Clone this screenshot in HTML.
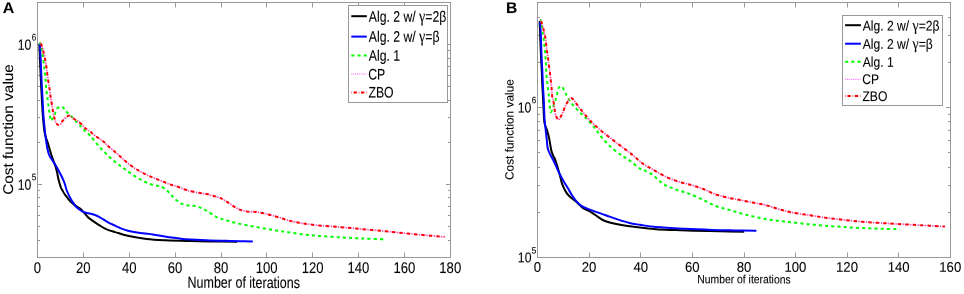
<!DOCTYPE html>
<html><head><meta charset="utf-8"><title>Cost function value vs. number of iterations</title>
<style>
html,body{margin:0;padding:0;background:#fff;width:964px;height:294px;overflow:hidden}
svg{display:block}
text{font-family:'Liberation Sans', Arial, sans-serif;fill:#000;stroke:#000;stroke-width:0.3px;stroke-opacity:0.3}
</style></head><body>
<svg width="964" height="294" viewBox="0 0 964 294">
<rect width="964" height="294" fill="#fff"/>
<path d="M83.50,257.50V252.50 M83.50,2.50V7.50 M129.50,257.50V252.50 M129.50,2.50V7.50 M175.50,257.50V252.50 M175.50,2.50V7.50 M221.50,257.50V252.50 M221.50,2.50V7.50 M266.50,257.50V252.50 M266.50,2.50V7.50 M312.50,257.50V252.50 M312.50,2.50V7.50 M358.50,257.50V252.50 M358.50,2.50V7.50 M404.50,257.50V252.50 M404.50,2.50V7.50 M37.50,240.50H40.00 M450.50,240.50H448.00 M37.50,226.50H40.00 M450.50,226.50H448.00 M37.50,215.50H40.00 M450.50,215.50H448.00 M37.50,206.50H40.00 M450.50,206.50H448.00 M37.50,197.50H40.00 M450.50,197.50H448.00 M37.50,190.50H40.00 M450.50,190.50H448.00 M37.50,184.50H42.00 M450.50,184.50H446.00 M37.50,142.50H40.00 M450.50,142.50H448.00 M37.50,117.50H40.00 M450.50,117.50H448.00 M37.50,100.50H40.00 M450.50,100.50H448.00 M37.50,86.50H40.00 M450.50,86.50H448.00 M37.50,75.50H40.00 M450.50,75.50H448.00 M37.50,66.50H40.00 M450.50,66.50H448.00 M37.50,58.50H40.00 M450.50,58.50H448.00 M37.50,50.50H40.00 M450.50,50.50H448.00 M37.50,44.50H42.00 M450.50,44.50H446.00" stroke="#999" stroke-width="1" fill="none"/>
<rect x="37.50" y="2.50" width="413.00" height="255.00" fill="none" stroke="#999" stroke-width="1"/>
<path d="M589.50,257.50V252.50 M589.50,2.50V7.50 M640.50,257.50V252.50 M640.50,2.50V7.50 M692.50,257.50V252.50 M692.50,2.50V7.50 M744.50,257.50V252.50 M744.50,2.50V7.50 M795.50,257.50V252.50 M795.50,2.50V7.50 M847.50,257.50V252.50 M847.50,2.50V7.50 M898.50,257.50V252.50 M898.50,2.50V7.50 M537.50,212.50H540.00 M950.50,212.50H948.00 M537.50,185.50H540.00 M950.50,185.50H948.00 M537.50,167.50H540.00 M950.50,167.50H948.00 M537.50,152.50H540.00 M950.50,152.50H948.00 M537.50,140.50H540.00 M950.50,140.50H948.00 M537.50,130.50H540.00 M950.50,130.50H948.00 M537.50,121.50H540.00 M950.50,121.50H948.00 M537.50,114.50H540.00 M950.50,114.50H948.00 M537.50,107.50H542.00 M950.50,107.50H946.00 M537.50,62.50H540.00 M950.50,62.50H948.00 M537.50,35.50H540.00 M950.50,35.50H948.00 M537.50,17.50H540.00 M950.50,17.50H948.00" stroke="#999" stroke-width="1" fill="none"/>
<rect x="537.50" y="2.50" width="413.00" height="255.00" fill="none" stroke="#999" stroke-width="1"/>
<path d="M39.30,43.80 C39.38,45.67 39.62,50.63 39.80,55.00 C39.98,59.37 40.18,65.00 40.40,70.00 C40.62,75.00 40.85,80.00 41.10,85.00 C41.35,90.00 41.62,95.00 41.90,100.00 C42.18,105.00 42.42,110.00 42.80,115.00 C43.18,120.00 43.70,126.33 44.20,130.00 C44.70,133.67 45.22,134.90 45.80,137.00 C46.38,139.10 47.07,140.60 47.70,142.60 C48.33,144.60 48.97,146.90 49.60,149.00 C50.23,151.10 50.90,153.37 51.50,155.20 C52.10,157.03 52.53,158.12 53.20,160.00 C53.87,161.88 54.87,164.50 55.50,166.50 C56.13,168.50 56.52,169.93 57.00,172.00 C57.48,174.07 57.75,176.32 58.40,178.90 C59.05,181.48 60.22,185.57 60.90,187.50 C61.58,189.43 61.90,189.42 62.50,190.50 C63.10,191.58 63.72,192.83 64.50,194.00 C65.28,195.17 66.20,196.25 67.20,197.50 C68.20,198.75 69.25,200.23 70.50,201.50 C71.75,202.77 73.05,203.87 74.70,205.10 C76.35,206.33 78.82,207.62 80.40,208.90 C81.98,210.18 82.93,211.42 84.20,212.80 C85.47,214.18 86.87,216.07 88.00,217.20 C89.13,218.33 89.83,218.73 91.00,219.60 C92.17,220.47 93.50,221.40 95.00,222.40 C96.50,223.40 98.32,224.57 100.00,225.60 C101.68,226.63 103.43,227.77 105.10,228.60 C106.77,229.43 108.32,230.02 110.00,230.60 C111.68,231.18 112.25,231.23 115.20,232.10 C118.15,232.97 122.47,234.67 127.70,235.80 C132.93,236.93 140.30,238.17 146.60,238.90 C152.90,239.63 158.17,239.85 165.50,240.20 C172.83,240.55 183.18,240.80 190.60,241.00 C198.02,241.20 202.25,241.27 210.00,241.40 C217.75,241.53 232.58,241.73 237.10,241.80" stroke="#000000" stroke-width="2" fill="none"/>
<path d="M39.80,43.80 C39.92,45.67 40.28,50.63 40.50,55.00 C40.72,59.37 40.88,65.00 41.10,70.00 C41.32,75.00 41.55,80.00 41.80,85.00 C42.05,90.00 42.33,95.00 42.60,100.00 C42.87,105.00 43.03,110.00 43.40,115.00 C43.77,120.00 44.43,126.33 44.80,130.00 C45.17,133.67 45.33,134.90 45.60,137.00 C45.87,139.10 46.10,140.68 46.40,142.60 C46.70,144.52 47.03,146.68 47.40,148.50 C47.77,150.32 48.13,152.08 48.60,153.50 C49.07,154.92 49.42,155.65 50.20,157.00 C50.98,158.35 52.35,160.13 53.30,161.60 C54.25,163.07 54.87,164.02 55.90,165.80 C56.93,167.58 58.35,170.12 59.50,172.30 C60.65,174.48 61.88,176.87 62.80,178.90 C63.72,180.93 64.37,182.65 65.00,184.50 C65.63,186.35 65.82,187.92 66.60,190.00 C67.38,192.08 68.80,195.17 69.70,197.00 C70.60,198.83 71.17,199.65 72.00,201.00 C72.83,202.35 73.70,203.85 74.70,205.10 C75.70,206.35 76.73,207.45 78.00,208.50 C79.27,209.55 80.97,210.68 82.30,211.40 C83.63,212.12 84.75,212.45 86.00,212.80 C87.25,213.15 88.55,213.22 89.80,213.50 C91.05,213.78 92.23,214.08 93.50,214.50 C94.77,214.92 96.15,215.42 97.40,216.00 C98.65,216.58 99.75,217.27 101.00,218.00 C102.25,218.73 103.58,219.60 104.90,220.40 C106.22,221.20 107.63,222.12 108.90,222.80 C110.17,223.48 111.07,223.83 112.50,224.50 C113.93,225.17 116.02,226.12 117.50,226.80 C118.98,227.48 119.82,227.98 121.40,228.60 C122.98,229.22 124.90,229.93 127.00,230.50 C129.10,231.07 131.33,231.53 134.00,232.00 C136.67,232.47 139.85,232.88 143.00,233.30 C146.15,233.72 149.73,234.05 152.90,234.50 C156.07,234.95 158.85,235.48 162.00,236.00 C165.15,236.52 168.63,237.15 171.80,237.60 C174.97,238.05 177.87,238.38 181.00,238.70 C184.13,239.02 187.43,239.27 190.60,239.50 C193.77,239.73 196.77,239.95 200.00,240.10 C203.23,240.25 205.83,240.28 210.00,240.40 C214.17,240.52 220.00,240.67 225.00,240.80 C230.00,240.93 235.37,241.10 240.00,241.20 C244.63,241.30 250.67,241.37 252.80,241.40" stroke="#0000ff" stroke-width="2" fill="none"/>
<path d="M39.80,42.00 C40.00,42.67 40.58,44.47 41.00,46.00 C41.42,47.53 41.95,49.13 42.30,51.20 C42.65,53.27 42.78,55.93 43.10,58.40 C43.42,60.87 43.90,63.47 44.20,66.00 C44.50,68.53 44.65,71.05 44.90,73.60 C45.15,76.15 45.48,78.83 45.70,81.30 C45.92,83.77 45.95,85.93 46.20,88.40 C46.45,90.87 46.85,93.42 47.20,96.10 C47.55,98.78 47.90,101.60 48.30,104.50 C48.70,107.40 49.17,110.82 49.60,113.50 C50.03,116.18 50.43,119.68 50.90,120.60 C51.37,121.52 51.83,119.88 52.40,119.00 C52.97,118.12 53.73,116.55 54.30,115.30 C54.87,114.05 55.30,112.63 55.80,111.50 C56.30,110.37 56.63,109.32 57.30,108.50 C57.97,107.68 58.95,106.82 59.80,106.60 C60.65,106.38 61.57,106.73 62.40,107.20 C63.23,107.67 63.95,108.48 64.80,109.40 C65.65,110.32 66.28,111.43 67.50,112.70 C68.72,113.97 70.53,115.38 72.10,117.00 C73.67,118.62 75.30,120.72 76.90,122.40 C78.50,124.08 80.30,125.62 81.70,127.10 C83.10,128.58 83.92,129.90 85.30,131.30 C86.68,132.70 88.37,133.77 90.00,135.50 C91.63,137.23 93.27,139.53 95.10,141.70 C96.93,143.87 98.92,146.27 101.00,148.50 C103.08,150.73 105.37,152.97 107.60,155.10 C109.83,157.23 112.30,159.52 114.40,161.30 C116.50,163.08 118.38,164.43 120.20,165.80 C122.02,167.17 123.18,167.98 125.30,169.50 C127.42,171.02 130.35,173.23 132.90,174.90 C135.45,176.57 138.05,178.10 140.60,179.50 C143.15,180.90 145.65,182.28 148.20,183.30 C150.75,184.32 153.85,185.10 155.90,185.60 C157.95,186.10 158.72,185.53 160.50,186.30 C162.28,187.07 164.82,188.78 166.60,190.20 C168.38,191.62 169.72,193.27 171.20,194.80 C172.68,196.33 173.80,197.93 175.50,199.40 C177.20,200.87 179.37,202.60 181.40,203.60 C183.43,204.60 185.60,205.03 187.70,205.40 C189.80,205.77 191.90,205.43 194.00,205.80 C196.10,206.17 198.20,206.77 200.30,207.60 C202.40,208.43 204.08,209.33 206.60,210.80 C209.12,212.27 213.17,215.12 215.40,216.40 C217.63,217.68 218.32,217.90 220.00,218.50 C221.68,219.10 222.67,219.22 225.50,220.00 C228.33,220.78 232.25,222.10 237.00,223.20 C241.75,224.30 248.33,225.55 254.00,226.60 C259.67,227.65 265.33,228.57 271.00,229.50 C276.67,230.43 282.33,231.35 288.00,232.20 C293.67,233.05 299.90,233.98 305.00,234.60 C310.10,235.22 312.55,235.43 318.60,235.90 C324.65,236.37 333.90,236.97 341.30,237.40 C348.70,237.83 355.70,238.17 363.00,238.50 C370.30,238.83 381.42,239.25 385.10,239.40" stroke="#00ff00" stroke-width="2" fill="none" stroke-dasharray="3.1 3.1"/>
<path d="M39.80,42.00 C40.15,42.68 41.20,44.05 41.90,46.10 C42.60,48.15 43.33,51.40 44.00,54.30 C44.67,57.20 45.45,61.03 45.90,63.50 C46.35,65.97 46.48,67.50 46.70,69.10 C46.92,70.70 46.92,70.98 47.20,73.10 C47.48,75.22 47.97,78.92 48.40,81.80 C48.83,84.68 49.45,87.93 49.80,90.40 C50.15,92.87 50.25,94.87 50.50,96.60 C50.75,98.33 50.95,98.68 51.30,100.80 C51.65,102.92 52.05,106.32 52.60,109.30 C53.15,112.28 54.02,116.43 54.60,118.70 C55.18,120.97 55.47,121.85 56.10,122.90 C56.73,123.95 57.67,124.82 58.40,125.00 C59.13,125.18 59.90,124.53 60.50,124.00 C61.10,123.47 61.25,122.77 62.00,121.80 C62.75,120.83 63.90,119.20 65.00,118.20 C66.10,117.20 67.68,116.13 68.60,115.80 C69.52,115.47 69.92,115.92 70.50,116.20 C71.08,116.48 71.35,116.95 72.10,117.50 C72.85,118.05 74.00,118.88 75.00,119.50 C76.00,120.12 76.78,120.22 78.10,121.20 C79.42,122.18 81.72,124.22 82.90,125.40 C84.08,126.58 84.05,127.32 85.20,128.30 C86.35,129.28 88.13,130.05 89.80,131.30 C91.47,132.55 92.93,134.10 95.20,135.80 C97.47,137.50 101.33,139.85 103.40,141.50 C105.47,143.15 105.83,144.12 107.60,145.70 C109.37,147.28 111.90,149.22 114.00,151.00 C116.10,152.78 118.32,154.72 120.20,156.40 C122.08,158.08 123.18,159.33 125.30,161.10 C127.42,162.87 130.35,165.22 132.90,167.00 C135.45,168.78 138.05,170.37 140.60,171.80 C143.15,173.23 145.65,174.45 148.20,175.60 C150.75,176.75 153.35,177.67 155.90,178.70 C158.45,179.73 160.95,180.78 163.50,181.80 C166.05,182.82 168.65,183.92 171.20,184.80 C173.75,185.68 176.05,186.15 178.80,187.10 C181.55,188.05 184.12,189.50 187.70,190.50 C191.28,191.50 197.15,192.50 200.30,193.10 C203.45,193.70 204.50,193.67 206.60,194.10 C208.70,194.53 210.67,195.07 212.90,195.70 C215.13,196.33 217.40,196.72 220.00,197.90 C222.60,199.08 225.67,201.05 228.50,202.80 C231.33,204.55 234.17,206.98 237.00,208.40 C239.83,209.82 242.67,210.73 245.50,211.30 C248.33,211.87 251.17,211.52 254.00,211.80 C256.83,212.08 259.67,212.43 262.50,213.00 C265.33,213.57 268.17,214.43 271.00,215.20 C273.83,215.97 276.67,216.75 279.50,217.60 C282.33,218.45 285.17,219.52 288.00,220.30 C290.83,221.08 293.67,221.73 296.50,222.30 C299.33,222.87 301.32,223.18 305.00,223.70 C308.68,224.22 312.55,224.82 318.60,225.40 C324.65,225.98 334.07,226.58 341.30,227.20 C348.53,227.82 354.95,228.45 362.00,229.10 C369.05,229.75 377.27,230.48 383.60,231.10 C389.93,231.72 394.02,232.20 400.00,232.80 C405.98,233.40 412.07,234.02 419.50,234.70 C426.93,235.38 440.42,236.53 444.60,236.90" stroke="#ff77ff" stroke-width="1.3" fill="none" stroke-dasharray="1 0.9"/>
<path d="M39.80,42.00 C40.15,42.68 41.20,44.05 41.90,46.10 C42.60,48.15 43.33,51.40 44.00,54.30 C44.67,57.20 45.45,61.03 45.90,63.50 C46.35,65.97 46.48,67.50 46.70,69.10 C46.92,70.70 46.92,70.98 47.20,73.10 C47.48,75.22 47.97,78.92 48.40,81.80 C48.83,84.68 49.45,87.93 49.80,90.40 C50.15,92.87 50.25,94.87 50.50,96.60 C50.75,98.33 50.95,98.68 51.30,100.80 C51.65,102.92 52.05,106.32 52.60,109.30 C53.15,112.28 54.02,116.43 54.60,118.70 C55.18,120.97 55.47,121.85 56.10,122.90 C56.73,123.95 57.67,124.82 58.40,125.00 C59.13,125.18 59.90,124.53 60.50,124.00 C61.10,123.47 61.25,122.77 62.00,121.80 C62.75,120.83 63.90,119.20 65.00,118.20 C66.10,117.20 67.68,116.13 68.60,115.80 C69.52,115.47 69.92,115.92 70.50,116.20 C71.08,116.48 71.35,116.95 72.10,117.50 C72.85,118.05 74.00,118.88 75.00,119.50 C76.00,120.12 76.78,120.22 78.10,121.20 C79.42,122.18 81.72,124.22 82.90,125.40 C84.08,126.58 84.05,127.32 85.20,128.30 C86.35,129.28 88.13,130.05 89.80,131.30 C91.47,132.55 92.93,134.10 95.20,135.80 C97.47,137.50 101.33,139.85 103.40,141.50 C105.47,143.15 105.83,144.12 107.60,145.70 C109.37,147.28 111.90,149.22 114.00,151.00 C116.10,152.78 118.32,154.72 120.20,156.40 C122.08,158.08 123.18,159.33 125.30,161.10 C127.42,162.87 130.35,165.22 132.90,167.00 C135.45,168.78 138.05,170.37 140.60,171.80 C143.15,173.23 145.65,174.45 148.20,175.60 C150.75,176.75 153.35,177.67 155.90,178.70 C158.45,179.73 160.95,180.78 163.50,181.80 C166.05,182.82 168.65,183.92 171.20,184.80 C173.75,185.68 176.05,186.15 178.80,187.10 C181.55,188.05 184.12,189.50 187.70,190.50 C191.28,191.50 197.15,192.50 200.30,193.10 C203.45,193.70 204.50,193.67 206.60,194.10 C208.70,194.53 210.67,195.07 212.90,195.70 C215.13,196.33 217.40,196.72 220.00,197.90 C222.60,199.08 225.67,201.05 228.50,202.80 C231.33,204.55 234.17,206.98 237.00,208.40 C239.83,209.82 242.67,210.73 245.50,211.30 C248.33,211.87 251.17,211.52 254.00,211.80 C256.83,212.08 259.67,212.43 262.50,213.00 C265.33,213.57 268.17,214.43 271.00,215.20 C273.83,215.97 276.67,216.75 279.50,217.60 C282.33,218.45 285.17,219.52 288.00,220.30 C290.83,221.08 293.67,221.73 296.50,222.30 C299.33,222.87 301.32,223.18 305.00,223.70 C308.68,224.22 312.55,224.82 318.60,225.40 C324.65,225.98 334.07,226.58 341.30,227.20 C348.53,227.82 354.95,228.45 362.00,229.10 C369.05,229.75 377.27,230.48 383.60,231.10 C389.93,231.72 394.02,232.20 400.00,232.80 C405.98,233.40 412.07,234.02 419.50,234.70 C426.93,235.38 440.42,236.53 444.60,236.90" stroke="#ff0000" stroke-width="2" fill="none" stroke-dasharray="3.3 1.9 0.45 1.75" stroke-dashoffset="5.6"/>
<path d="M539.60,21.30 C539.67,22.75 539.85,26.22 540.00,30.00 C540.15,33.78 540.33,39.50 540.50,44.00 C540.67,48.50 540.80,52.67 541.00,57.00 C541.20,61.33 541.48,65.33 541.70,70.00 C541.92,74.67 542.08,80.33 542.30,85.00 C542.52,89.67 542.78,93.83 543.00,98.00 C543.22,102.17 543.42,106.33 543.60,110.00 C543.78,113.67 543.87,117.50 544.10,120.00 C544.33,122.50 544.52,123.32 545.00,125.00 C545.48,126.68 546.25,127.58 547.00,130.10 C547.75,132.62 548.80,136.78 549.50,140.10 C550.20,143.42 550.57,147.35 551.20,150.00 C551.83,152.65 552.62,154.30 553.30,156.00 C553.98,157.70 554.28,157.28 555.30,160.20 C556.32,163.12 558.22,169.42 559.40,173.50 C560.58,177.58 561.22,181.47 562.40,184.70 C563.58,187.93 565.23,190.88 566.50,192.90 C567.77,194.92 568.42,195.37 570.00,196.80 C571.58,198.23 573.82,199.62 576.00,201.50 C578.18,203.38 580.53,206.30 583.10,208.10 C585.67,209.90 588.62,210.62 591.40,212.30 C594.18,213.98 597.42,216.72 599.80,218.20 C602.18,219.68 602.73,220.20 605.70,221.20 C608.67,222.20 613.63,223.37 617.60,224.20 C621.57,225.03 625.77,225.67 629.50,226.20 C633.23,226.73 635.55,226.88 640.00,227.40 C644.45,227.92 650.37,228.85 656.20,229.30 C662.03,229.75 668.77,229.87 675.00,230.10 C681.23,230.33 686.10,230.50 693.60,230.70 C701.10,230.90 711.57,231.12 720.00,231.30 C728.43,231.48 740.17,231.72 744.20,231.80" stroke="#000000" stroke-width="2" fill="none"/>
<path d="M540.20,21.30 C540.27,22.75 540.45,26.22 540.60,30.00 C540.75,33.78 540.93,39.50 541.10,44.00 C541.27,48.50 541.40,52.67 541.60,57.00 C541.80,61.33 542.08,65.33 542.30,70.00 C542.52,74.67 542.67,80.33 542.90,85.00 C543.13,89.67 543.48,93.83 543.70,98.00 C543.92,102.17 544.05,106.33 544.20,110.00 C544.35,113.67 544.35,116.65 544.60,120.00 C544.85,123.35 545.33,126.75 545.70,130.10 C546.07,133.45 546.50,137.28 546.80,140.10 C547.10,142.92 547.23,145.27 547.50,147.00 C547.77,148.73 547.82,149.00 548.40,150.50 C548.98,152.00 550.02,154.05 551.00,156.00 C551.98,157.95 552.90,159.28 554.30,162.20 C555.70,165.12 557.70,170.08 559.40,173.50 C561.10,176.92 563.10,180.28 564.50,182.70 C565.90,185.12 566.58,185.95 567.80,188.00 C569.02,190.05 570.25,192.65 571.80,195.00 C573.35,197.35 575.22,200.12 577.10,202.10 C578.98,204.08 580.32,205.40 583.10,206.90 C585.88,208.40 590.03,209.72 593.80,211.10 C597.57,212.48 601.73,213.82 605.70,215.20 C609.67,216.58 613.63,218.10 617.60,219.40 C621.57,220.70 625.77,222.10 629.50,223.00 C633.23,223.90 635.55,224.12 640.00,224.80 C644.45,225.48 648.82,226.43 656.20,227.10 C663.58,227.77 674.93,228.33 684.30,228.80 C693.67,229.27 703.95,229.63 712.40,229.90 C720.85,230.17 727.67,230.25 735.00,230.40 C742.33,230.55 752.83,230.73 756.40,230.80" stroke="#0000ff" stroke-width="2" fill="none"/>
<path d="M540.20,19.50 C540.37,19.92 540.88,20.70 541.20,22.00 C541.52,23.30 541.78,25.15 542.10,27.30 C542.42,29.45 542.78,32.52 543.10,34.90 C543.42,37.28 543.73,39.22 544.00,41.60 C544.27,43.98 544.47,46.75 544.70,49.20 C544.93,51.65 545.20,54.00 545.40,56.30 C545.60,58.60 545.77,60.72 545.90,63.00 C546.03,65.28 546.07,67.63 546.20,70.00 C546.33,72.37 546.48,74.82 546.70,77.20 C546.92,79.58 547.25,82.00 547.50,84.30 C547.75,86.60 547.95,88.78 548.20,91.00 C548.45,93.22 548.75,95.27 549.00,97.60 C549.25,99.93 549.42,102.60 549.70,105.00 C549.98,107.40 550.23,111.42 550.70,112.00 C551.17,112.58 551.77,110.27 552.50,108.50 C553.23,106.73 554.37,103.65 555.10,101.40 C555.83,99.15 556.35,97.17 556.90,95.00 C557.45,92.83 557.83,89.82 558.40,88.40 C558.97,86.98 559.65,86.75 560.30,86.50 C560.95,86.25 561.42,85.73 562.30,86.90 C563.18,88.07 564.28,91.08 565.60,93.50 C566.92,95.92 568.38,98.83 570.20,101.40 C572.02,103.97 574.40,106.60 576.50,108.90 C578.60,111.20 580.92,113.32 582.80,115.20 C584.68,117.08 585.70,117.93 587.80,120.20 C589.90,122.47 592.88,125.68 595.40,128.80 C597.92,131.92 599.97,135.55 602.90,138.90 C605.83,142.25 609.65,146.00 613.00,148.90 C616.35,151.80 620.07,154.23 623.00,156.30 C625.93,158.37 627.77,159.25 630.60,161.30 C633.43,163.35 637.60,167.03 640.00,168.60 C642.40,170.17 643.12,169.83 645.00,170.70 C646.88,171.57 649.40,172.55 651.30,173.80 C653.20,175.05 654.82,176.83 656.40,178.20 C657.98,179.57 659.13,180.73 660.80,182.00 C662.47,183.27 664.42,184.75 666.40,185.80 C668.38,186.85 670.82,187.57 672.70,188.30 C674.58,189.03 675.82,189.57 677.70,190.20 C679.58,190.83 681.90,191.43 684.00,192.10 C686.10,192.77 687.20,192.97 690.30,194.20 C693.40,195.43 698.45,197.57 702.60,199.50 C706.75,201.43 711.02,204.13 715.20,205.80 C719.38,207.47 723.52,208.25 727.70,209.50 C731.88,210.75 736.10,212.15 740.30,213.30 C744.50,214.45 748.70,215.45 752.90,216.40 C757.10,217.35 761.32,218.27 765.50,219.00 C769.68,219.73 773.82,220.27 778.00,220.80 C782.18,221.33 785.60,221.63 790.60,222.20 C795.60,222.77 802.20,223.62 808.00,224.20 C813.80,224.78 819.57,225.23 825.40,225.70 C831.23,226.17 837.10,226.62 843.00,227.00 C848.90,227.38 854.63,227.72 860.80,228.00 C866.97,228.28 873.52,228.50 880.00,228.70 C886.48,228.90 896.42,229.12 899.70,229.20" stroke="#00ff00" stroke-width="2" fill="none" stroke-dasharray="3.1 3.1"/>
<path d="M540.20,19.50 C540.47,20.12 541.17,21.23 541.80,23.20 C542.43,25.17 543.35,28.50 544.00,31.30 C544.65,34.10 545.25,37.02 545.70,40.00 C546.15,42.98 546.33,46.40 546.70,49.20 C547.07,52.00 547.55,54.17 547.90,56.80 C548.25,59.43 548.45,62.28 548.80,65.00 C549.15,67.72 549.63,70.22 550.00,73.10 C550.37,75.98 550.70,79.42 551.00,82.30 C551.30,85.18 551.58,87.93 551.80,90.40 C552.02,92.87 552.07,95.48 552.30,97.10 C552.53,98.72 552.90,98.62 553.20,100.10 C553.50,101.58 553.78,103.90 554.10,106.00 C554.42,108.10 554.70,110.87 555.10,112.70 C555.50,114.53 555.97,115.85 556.50,117.00 C557.03,118.15 557.67,119.52 558.30,119.60 C558.93,119.68 559.57,118.65 560.30,117.50 C561.03,116.35 561.92,114.45 562.70,112.70 C563.48,110.95 564.17,108.88 565.00,107.00 C565.83,105.12 566.95,102.73 567.70,101.40 C568.45,100.07 568.87,99.53 569.50,99.00 C570.13,98.47 570.78,98.03 571.50,98.20 C572.22,98.37 572.97,99.05 573.80,100.00 C574.63,100.95 575.00,101.90 576.50,103.90 C578.00,105.90 580.50,109.18 582.80,112.00 C585.10,114.82 587.37,117.78 590.30,120.80 C593.23,123.82 596.62,126.88 600.40,130.10 C604.18,133.32 608.80,136.85 613.00,140.10 C617.20,143.35 622.03,146.87 625.60,149.60 C629.17,152.33 631.68,154.27 634.40,156.50 C637.12,158.73 638.87,160.85 641.90,163.00 C644.93,165.15 648.72,167.17 652.60,169.40 C656.48,171.63 661.02,174.40 665.20,176.40 C669.38,178.40 673.52,180.00 677.70,181.40 C681.88,182.80 686.15,183.57 690.30,184.80 C694.45,186.03 698.45,187.23 702.60,188.80 C706.75,190.37 711.02,192.73 715.20,194.20 C719.38,195.67 723.52,196.62 727.70,197.60 C731.88,198.58 736.10,199.27 740.30,200.10 C744.50,200.93 748.70,201.77 752.90,202.60 C757.10,203.43 761.32,204.05 765.50,205.10 C769.68,206.15 773.82,207.72 778.00,208.90 C782.18,210.08 785.35,211.15 790.60,212.20 C795.85,213.25 803.70,214.28 809.50,215.20 C815.30,216.12 819.82,216.93 825.40,217.70 C830.98,218.47 837.10,219.15 843.00,219.80 C848.90,220.45 854.97,221.10 860.80,221.60 C866.63,222.10 872.10,222.42 878.00,222.80 C883.90,223.18 889.20,223.50 896.20,223.90 C903.20,224.30 911.88,224.77 920.00,225.20 C928.12,225.63 940.75,226.28 944.90,226.50" stroke="#ff77ff" stroke-width="1.3" fill="none" stroke-dasharray="1 0.9"/>
<path d="M540.20,19.50 C540.47,20.12 541.17,21.23 541.80,23.20 C542.43,25.17 543.35,28.50 544.00,31.30 C544.65,34.10 545.25,37.02 545.70,40.00 C546.15,42.98 546.33,46.40 546.70,49.20 C547.07,52.00 547.55,54.17 547.90,56.80 C548.25,59.43 548.45,62.28 548.80,65.00 C549.15,67.72 549.63,70.22 550.00,73.10 C550.37,75.98 550.70,79.42 551.00,82.30 C551.30,85.18 551.58,87.93 551.80,90.40 C552.02,92.87 552.07,95.48 552.30,97.10 C552.53,98.72 552.90,98.62 553.20,100.10 C553.50,101.58 553.78,103.90 554.10,106.00 C554.42,108.10 554.70,110.87 555.10,112.70 C555.50,114.53 555.97,115.85 556.50,117.00 C557.03,118.15 557.67,119.52 558.30,119.60 C558.93,119.68 559.57,118.65 560.30,117.50 C561.03,116.35 561.92,114.45 562.70,112.70 C563.48,110.95 564.17,108.88 565.00,107.00 C565.83,105.12 566.95,102.73 567.70,101.40 C568.45,100.07 568.87,99.53 569.50,99.00 C570.13,98.47 570.78,98.03 571.50,98.20 C572.22,98.37 572.97,99.05 573.80,100.00 C574.63,100.95 575.00,101.90 576.50,103.90 C578.00,105.90 580.50,109.18 582.80,112.00 C585.10,114.82 587.37,117.78 590.30,120.80 C593.23,123.82 596.62,126.88 600.40,130.10 C604.18,133.32 608.80,136.85 613.00,140.10 C617.20,143.35 622.03,146.87 625.60,149.60 C629.17,152.33 631.68,154.27 634.40,156.50 C637.12,158.73 638.87,160.85 641.90,163.00 C644.93,165.15 648.72,167.17 652.60,169.40 C656.48,171.63 661.02,174.40 665.20,176.40 C669.38,178.40 673.52,180.00 677.70,181.40 C681.88,182.80 686.15,183.57 690.30,184.80 C694.45,186.03 698.45,187.23 702.60,188.80 C706.75,190.37 711.02,192.73 715.20,194.20 C719.38,195.67 723.52,196.62 727.70,197.60 C731.88,198.58 736.10,199.27 740.30,200.10 C744.50,200.93 748.70,201.77 752.90,202.60 C757.10,203.43 761.32,204.05 765.50,205.10 C769.68,206.15 773.82,207.72 778.00,208.90 C782.18,210.08 785.35,211.15 790.60,212.20 C795.85,213.25 803.70,214.28 809.50,215.20 C815.30,216.12 819.82,216.93 825.40,217.70 C830.98,218.47 837.10,219.15 843.00,219.80 C848.90,220.45 854.97,221.10 860.80,221.60 C866.63,222.10 872.10,222.42 878.00,222.80 C883.90,223.18 889.20,223.50 896.20,223.90 C903.20,224.30 911.88,224.77 920.00,225.20 C928.12,225.63 940.75,226.28 944.90,226.50" stroke="#ff0000" stroke-width="2" fill="none" stroke-dasharray="3.3 1.9 0.45 1.75" stroke-dashoffset="5.6"/>
<rect x="348.50" y="5.50" width="99.00" height="97.00" fill="#fff" stroke="#999" stroke-width="1"/>
<path d="M351.30,16.20H366.80" stroke="#000000" stroke-width="2" fill="none"/>
<text transform="translate(368.78,21.70) scale(0.8000,1) rotate(0.05)" font-size="15.30">Alg. 2 w/ <tspan font-family="'Liberation Serif', serif" font-size="17.59">γ</tspan>=2β</text>
<path d="M351.30,36.60H366.80" stroke="#0000ff" stroke-width="2" fill="none"/>
<text transform="translate(368.78,41.70) scale(0.8000,1) rotate(0.05)" font-size="15.30">Alg. 2 w/ <tspan font-family="'Liberation Serif', serif" font-size="17.59">γ</tspan>=β</text>
<path d="M351.30,55.50H366.80" stroke="#00ff00" stroke-width="2" fill="none" stroke-dasharray="3.1 3.1"/>
<text transform="translate(368.78,60.80) scale(0.8000,1) rotate(0.05)" font-size="15.30">Alg. 1</text>
<path d="M351.30,73.80H366.80" stroke="#ff77ff" stroke-width="1.3" fill="none" stroke-dasharray="1 0.9"/>
<text transform="translate(368.18,79.40) scale(0.8000,1) rotate(0.05)" font-size="15.30">CP</text>
<path d="M351.30,92.50H366.80" stroke="#ff0000" stroke-width="2" fill="none" stroke-dasharray="3.3 1.9 0.45 1.75" stroke-dashoffset="5.1"/>
<text transform="translate(368.41,97.60) scale(0.8000,1) rotate(0.05)" font-size="15.30">ZBO</text>
<rect x="842.50" y="15.50" width="100.00" height="90.00" fill="#fff" stroke="#999" stroke-width="1"/>
<path d="M845.10,25.20H860.90" stroke="#000000" stroke-width="2" fill="none"/>
<text transform="translate(862.78,30.50) scale(0.8650,1) rotate(0.05)" font-size="14.00">Alg. 2 w/ <tspan font-family="'Liberation Serif', serif" font-size="16.10">γ</tspan>=2β</text>
<path d="M845.10,43.70H860.90" stroke="#0000ff" stroke-width="2" fill="none"/>
<text transform="translate(862.78,48.80) scale(0.8650,1) rotate(0.05)" font-size="14.00">Alg. 2 w/ <tspan font-family="'Liberation Serif', serif" font-size="16.10">γ</tspan>=β</text>
<path d="M845.10,61.70H860.90" stroke="#00ff00" stroke-width="2" fill="none" stroke-dasharray="3.1 3.1"/>
<text transform="translate(862.78,66.80) scale(0.8650,1) rotate(0.05)" font-size="14.00">Alg. 1</text>
<path d="M845.10,79.30H860.90" stroke="#ff77ff" stroke-width="1.3" fill="none" stroke-dasharray="1 0.9"/>
<text transform="translate(862.19,83.90) scale(0.8650,1) rotate(0.05)" font-size="14.00">CP</text>
<path d="M845.10,95.90H860.90" stroke="#ff0000" stroke-width="2" fill="none" stroke-dasharray="3.3 1.9 0.45 1.75" stroke-dashoffset="5.1"/>
<text transform="translate(862.42,101.00) scale(0.8650,1) rotate(0.05)" font-size="14.00">ZBO</text>
<text transform="translate(33.86,273.05) scale(0.8450,1) rotate(0.05)" font-size="15.50">0</text>
<text transform="translate(76.03,273.05) scale(0.8450,1) rotate(0.05)" font-size="15.50">20</text>
<text transform="translate(122.10,273.05) scale(0.8450,1) rotate(0.05)" font-size="15.50">40</text>
<text transform="translate(167.81,273.05) scale(0.8450,1) rotate(0.05)" font-size="15.50">60</text>
<text transform="translate(213.74,273.05) scale(0.8450,1) rotate(0.05)" font-size="15.50">80</text>
<text transform="translate(255.78,273.05) scale(0.8450,1) rotate(0.05)" font-size="15.50">100</text>
<text transform="translate(301.66,273.05) scale(0.8450,1) rotate(0.05)" font-size="15.50">120</text>
<text transform="translate(347.55,273.05) scale(0.8450,1) rotate(0.05)" font-size="15.50">140</text>
<text transform="translate(393.44,273.05) scale(0.8450,1) rotate(0.05)" font-size="15.50">160</text>
<text transform="translate(439.33,273.05) scale(0.8450,1) rotate(0.05)" font-size="15.50">180</text>
<text transform="translate(533.84,271.70) scale(0.9400,1) rotate(0.05)" font-size="14.00">0</text>
<text transform="translate(581.73,271.70) scale(0.9400,1) rotate(0.05)" font-size="14.00">20</text>
<text transform="translate(633.54,271.70) scale(0.9400,1) rotate(0.05)" font-size="14.00">40</text>
<text transform="translate(684.98,271.70) scale(0.9400,1) rotate(0.05)" font-size="14.00">60</text>
<text transform="translate(736.65,271.70) scale(0.9400,1) rotate(0.05)" font-size="14.00">80</text>
<text transform="translate(784.40,271.70) scale(0.9400,1) rotate(0.05)" font-size="14.00">100</text>
<text transform="translate(836.03,271.70) scale(0.9400,1) rotate(0.05)" font-size="14.00">120</text>
<text transform="translate(887.65,271.70) scale(0.9400,1) rotate(0.05)" font-size="14.00">140</text>
<text transform="translate(939.28,271.70) scale(0.9400,1) rotate(0.05)" font-size="14.00">160</text>
<text transform="translate(17.67,49.80) scale(0.8250,1) rotate(0.05)" font-size="14.83">10</text>
<text transform="translate(31.79,40.40) scale(0.8228,1) rotate(0.05)" font-size="9.75">6</text>
<text transform="translate(17.67,189.70) scale(0.8173,1) rotate(0.05)" font-size="14.97">10</text>
<text transform="translate(31.87,180.30) scale(0.8692,1) rotate(0.05)" font-size="9.46">5</text>
<text transform="translate(517.77,112.50) scale(0.8330,1) rotate(0.05)" font-size="14.69">10</text>
<text transform="translate(531.79,103.30) scale(0.8602,1) rotate(0.05)" font-size="9.32">6</text>
<text transform="translate(517.87,262.20) scale(0.8663,1) rotate(0.05)" font-size="14.12">10</text>
<text transform="translate(531.45,253.50) scale(0.9419,1) rotate(0.05)" font-size="9.18">5</text>
<text transform="translate(187.57,287.80) scale(0.7892,1) rotate(0.05)" font-size="15.84">Number of iterations</text>
<text transform="translate(697.35,283.30) scale(0.8706,1) rotate(0.05)" font-size="11.92">Number of iterations</text>
<text transform="translate(13.00,194.78) scale(0.9200,1) rotate(-89.95)" font-size="15.38">Cost function value</text>
<text transform="translate(513.50,180.00) scale(1.0000,1) rotate(-89.95)" font-size="11.87">Cost function value</text>
<text transform="translate(2.80,12.90) scale(1.0352,1) rotate(0.05)" font-size="15.41" font-weight="bold">A</text>
<text transform="translate(505.96,12.90) scale(1.0111,1) rotate(0.05)" font-size="15.41" font-weight="bold">B</text>
</svg>
</body></html>
